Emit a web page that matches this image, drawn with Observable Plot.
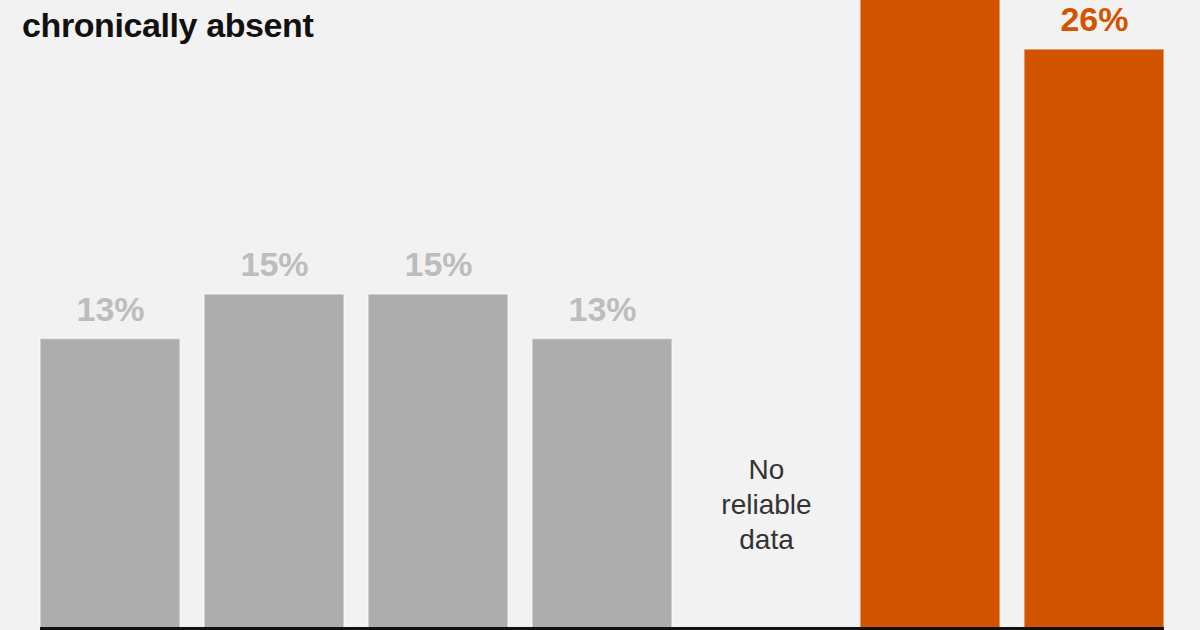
<!DOCTYPE html>
<html>
<head>
<meta charset="utf-8">
<script src="https://cdn.jsdelivr.net/npm/d3@7"></script>
<script src="https://cdn.jsdelivr.net/npm/@observablehq/plot@0.6"></script>
<style>
  html, body { margin: 0; padding: 0; background: #f2f2f2; }
  #wrap { position: relative; width: 1200px; height: 630px; overflow: hidden; }
  #title { position: absolute; left: 22px; top: 8px; line-height: 1; font-family: "Liberation Sans", Arial, sans-serif; font-weight: 700; font-size: 34px; color: #111; letter-spacing: -0.4px; }
  svg { display: block; }
</style>
</head>
<body>
<div id="wrap">
  <div id="chart"></div>
  <div id="title">chronically absent</div>
</div>
<script>
const categories = ["Group 1", "Group 2", "Group 3", "Group 4", "Group 5", "Group 6", "Group 7"];
const values = [13, 15, 15, 13, null, 30, 26];
const highlighted = [false, false, false, false, false, true, true];
const showLabel = [true, true, true, true, false, false, true];
const noDataText = "No\nreliable\ndata";

const data = categories.map((c, i) => ({
  category: c, value: values[i], hi: highlighted[i], label: showLabel[i]
}));
const bars = data.filter(d => d.value != null);
const labels = data.filter(d => d.value != null && d.label);
const missing = data.filter(d => d.value == null);

const chart = Plot.plot({
  width: 1200,
  height: 630,
  marginTop: 0,
  marginBottom: 2,
  marginLeft: 40,
  marginRight: 36,
  style: { background: "#f2f2f2", fontFamily: "Liberation Sans, Arial, sans-serif" },
  x: { domain: categories, paddingInner: 0.146, paddingOuter: 0, round: false, axis: null },
  y: { domain: [0, 28.2], axis: null },
  marks: [
    Plot.barY(bars, {
      x: "category", y: "value",
      fill: d => d.hi ? "#d35400" : "#adadad",
      stroke: "#ffffff", strokeOpacity: 0.55, strokeWidth: 1.5
    }),
    Plot.text(labels, {
      x: "category", y: "value",
      text: d => `${d.value}%`,
      fill: d => d.hi ? "#d35400" : "#bdbdbd",
      fontSize: 34, fontWeight: 700,
      lineAnchor: "bottom", dy: -18
    }),
    Plot.text(missing, {
      x: "category",
      text: () => noDataText,
      frameAnchor: "bottom",
      lineAnchor: "bottom",
      lineHeight: 1.25,
      fontSize: 28,
      fill: "#333",
      dy: -80
    }),
    Plot.ruleY([0], { stroke: "#111", strokeWidth: 3 })
  ]
});
document.getElementById("chart").appendChild(chart);
</script>
</body>
</html>
